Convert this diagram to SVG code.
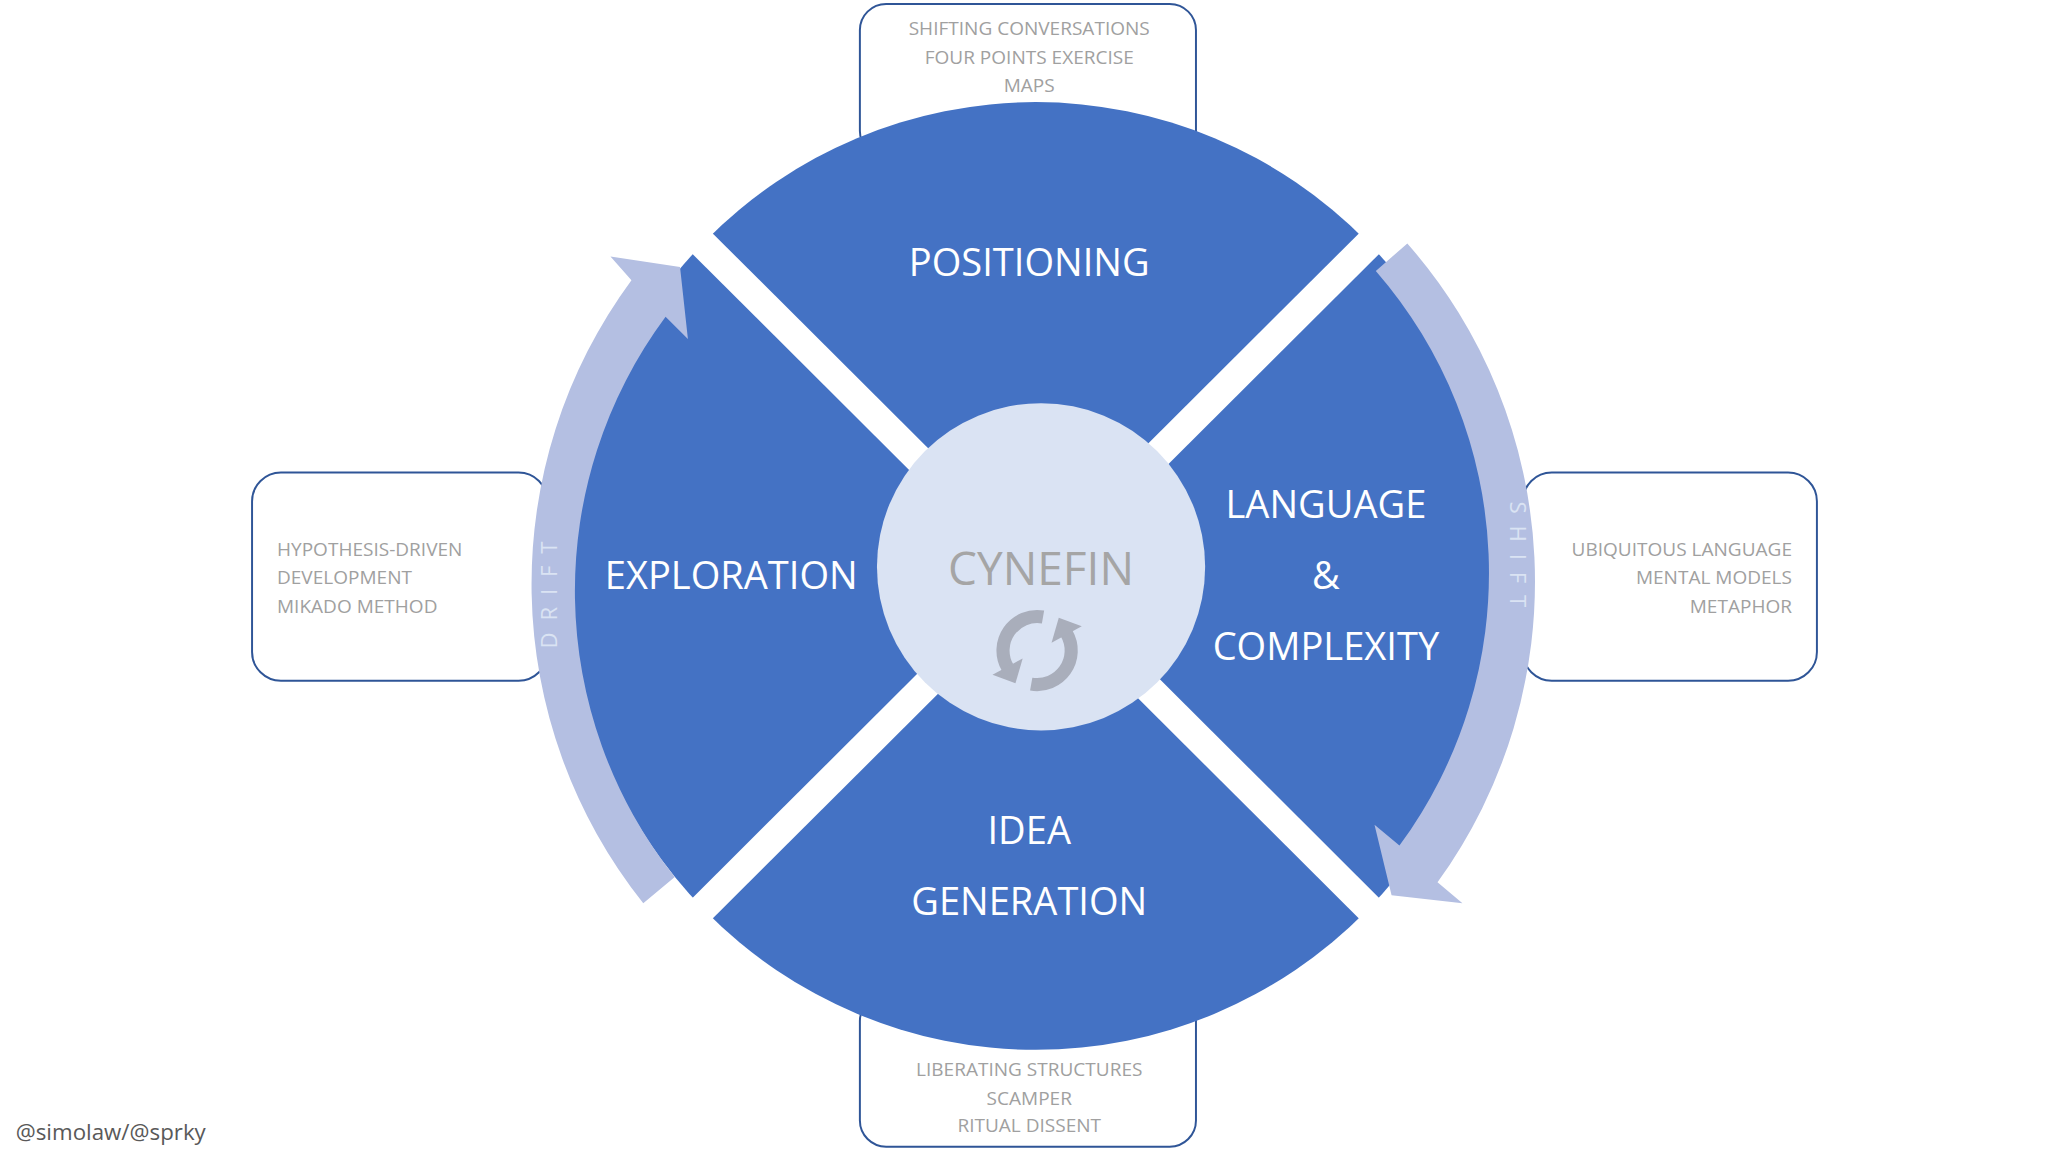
<svg xmlns="http://www.w3.org/2000/svg" width="2048" height="1152" viewBox="0 0 2048 1152">
<style>
.box{fill:#fff;stroke:#2f5597;stroke-width:1.5}
.small{font-family:"Open Sans","Liberation Sans",sans-serif;font-size:14.5px;fill:#a0a0a0}
.lbl{font-family:"Open Sans","Liberation Sans",sans-serif;font-size:29px;fill:#fff;text-anchor:middle}
.band{fill:#b4bfe2}
.vert{font-family:"Open Sans","Liberation Sans",sans-serif;font-size:17px;fill:#dae3f3;text-anchor:middle;letter-spacing:9px}
</style>
<rect width="2048" height="1152" fill="#fff"/>
<g transform="scale(1.3128,1.309)">
<g id="box-top"><rect class="box" x="655" y="3" width="256" height="117" rx="20"/>
<text class="small" text-anchor="middle"><tspan x="784" y="27">SHIFTING CONVERSATIONS</tspan><tspan x="784" y="49">FOUR POINTS EXERCISE</tspan><tspan x="784" y="70">MAPS</tspan></text></g>
<g id="box-bottom"><rect class="box" x="655" y="760" width="256" height="116" rx="20"/>
<text class="small" text-anchor="middle"><tspan x="784" y="822">LIBERATING STRUCTURES</tspan><tspan x="784" y="844">SCAMPER</tspan><tspan x="784" y="865">RITUAL DISSENT</tspan></text></g>
<g id="box-left"><rect class="box" x="192" y="361" width="225" height="159" rx="22"/>
<text class="small"><tspan x="211" y="425">HYPOTHESIS-DRIVEN</tspan><tspan x="211" y="446">DEVELOPMENT</tspan><tspan x="211" y="468">MIKADO METHOD</tspan></text></g>
<g id="box-right"><rect class="box" x="1160" y="361" width="224" height="159" rx="22"/>
<text class="small" text-anchor="end"><tspan x="1365" y="425">UBIQUITOUS LANGUAGE</tspan><tspan x="1365" y="446">MENTAL MODELS</tspan><tspan x="1365" y="468">METAPHOR</tspan></text></g>
<g id="wheel">
<ellipse cx="789" cy="440" rx="356" ry="362" fill="#4472c4"/>
<g stroke="#fff" stroke-width="22">
<line x1="520" y1="171" x2="1058" y2="709"/>
<line x1="1058" y1="171" x2="520" y2="709"/>
</g>
</g>
<g id="connectors">
<path id="drift" class="band" d="M490,690 A392,392 0 0 1 481,214 L465,196 L518,204 L524,259 L507,242 A352,352 0 0 0 514,670 Z"/>
<path id="shift" class="band" d="M1072,186 A392,392 0 0 1 1095,674 L1114,690 L1060,684 L1047,630 L1066,646 A352,352 0 0 0 1048,207 Z"/>
</g>
<text class="vert" transform="translate(424,450) rotate(-90)">DRIFT</text>
<text class="vert" transform="translate(1150,428) rotate(90)">SHIFT</text>
<g id="positioning"><text class="lbl" x="784" y="211">POSITIONING</text></g>
<g id="exploration"><text class="lbl" x="557" y="450">EXPLORATION</text></g>
<g id="language"><text class="lbl"><tspan x="1010" y="396">LANGUAGE</tspan><tspan x="1010" y="450">&amp;</tspan><tspan x="1010" y="504">COMPLEXITY</tspan></text></g>
<g id="idea"><text class="lbl"><tspan x="784" y="645">IDEA</tspan><tspan x="784" y="699">GENERATION</tspan></text></g>
<g id="cynefin">
<circle cx="793" cy="433" r="125" fill="#dae3f3"/>
<text x="793" y="447" font-family="'Open Sans','Liberation Sans',sans-serif" font-size="35" fill="#a5a5a5" text-anchor="middle">CYNEFIN</text>
<g fill="none" stroke="#a9aebb" stroke-width="10">
<path d="M794.5,471.4 A26,26 0 0 0 767.5,510"/>
<path d="M785.5,522.6 A26,26 0 0 0 812.5,484"/>
</g>
<g fill="#a9aebb">
<polygon points="773.5,522 756,515.5 779,503"/>
<polygon points="806.5,472 824,478.5 801,491"/>
</g>
</g>
<text x="12" y="871" font-family="'Open Sans','Liberation Sans',sans-serif" font-size="17" fill="#595959">@simolaw/@sprky</text>
</g>
</svg>
